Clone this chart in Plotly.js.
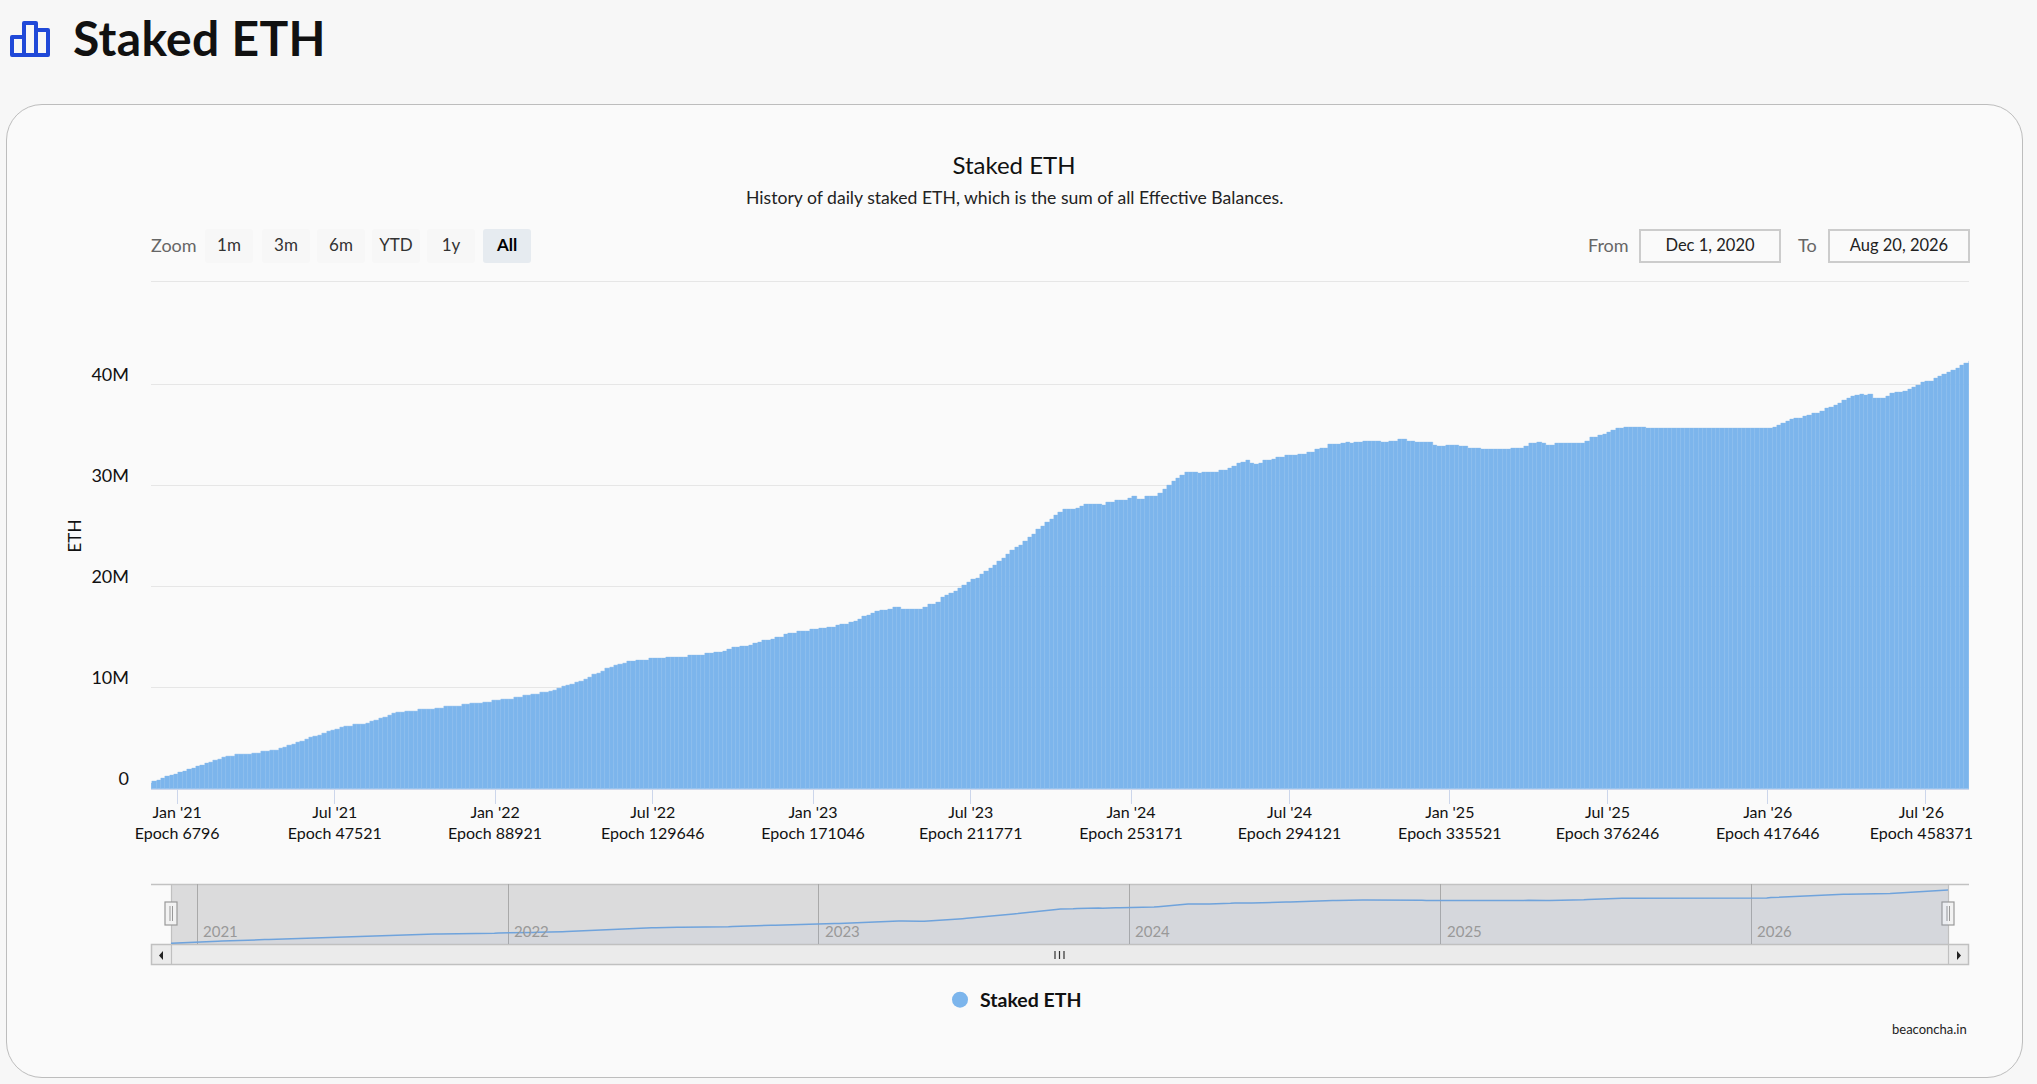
<!DOCTYPE html>
<html>
<head>
<meta charset="utf-8">
<title>Staked ETH</title>
<script src="https://cdn.plot.ly/plotly-3.0.1.min.js"></script>
<style>
  html, body { margin: 0; width: 2037px; height: 1084px; overflow: hidden; background: #f7f7f7; font-family: Lato, sans-serif; color: #111; }
  #heading { position: absolute; left: 73px; top: 5px; font-size: 48px; font-weight: 700; line-height: 66px; letter-spacing: 0.3px; }
  #card { position: absolute; left: 6px; top: 104px; width: 2015px; height: 972px; border: 1px solid #bdbdbd; border-radius: 36px; background: #fafafa; }
  #furniture, #icon, #graph { position: absolute; left: 0; top: 0; }
  #graph { width: 2037px; height: 1084px; }
  .lbl { position: absolute; top: 228px; height: 34px; line-height: 34px; font-size: 18px; color: #666; }
  .btn { position: absolute; top: 229px; height: 34px; line-height: 32px; width: 48px; font-size: 17px; text-align: center; background: #f7f7f7; border-radius: 3px; color: #333; }
  .btn.on { background: #e6ebf0; color: #000; font-weight: 700; }
  .date { position: absolute; top: 229px; width: 138px; height: 30px; line-height: 28px; font-size: 16.5px; text-align: center; border: 2px solid #ccc; color: #222; }
</style>
</head>
<body>
<div id="heading">Staked ETH</div>
<svg id="icon" width="60" height="70">
  <path d="M12 37h12v18H12z M24 23h12v32H24z M36 30h12v25H36z" fill="none" stroke="#2049d8" stroke-width="4" stroke-linejoin="round"/>
</svg>
<div id="card"></div>

<div class="lbl" style="left:151px">Zoom</div>
<div class="btn" style="left:205px">1m</div>
<div class="btn" style="left:262px">3m</div>
<div class="btn" style="left:317px">6m</div>
<div class="btn" style="left:372px">YTD</div>
<div class="btn" style="left:427px">1y</div>
<div class="btn on" style="left:483px">All</div>
<div class="lbl" style="left:1588px">From</div>
<div class="date" style="left:1639px">Dec 1, 2020</div>
<div class="lbl" style="left:1798px">To</div>
<div class="date" style="left:1828px">Aug 20, 2026</div>

<!-- separator, navigator mask, handles and scrollbar sit under the transparent plot -->
<svg id="furniture" width="2037" height="1084">
  <path d="M151 281.5H1969" stroke="#e6e6e6"/>
  <rect x="171" y="884" width="1777" height="60" fill="#dbdbdc"/>
  <path d="M151 884.5H1969" stroke="#c2c2c2" stroke-width="1.5"/>
  <rect x="151.5" y="944.5" width="1817" height="20" fill="#ebebeb" stroke="#c0c0c0" stroke-width="1.5"/>
  <path d="M171.5 944V965M1948.5 944V965M171.5 884V944M1948.5 884V944" stroke="#c0c0c0" stroke-width="1.2"/>
  <path d="M163 951l-4 4.5 4 4.5z M1957 951l4 4.5-4 4.5z" fill="#222"/>
  <path d="M1055 951v8M1059.5 951v8M1064 951v8" stroke="#333" stroke-width="1.2"/>
  <rect x="165" y="902" width="12" height="23" fill="#f2f2f2" stroke="#999" stroke-width="1.2"/>
  <rect x="1942" y="902" width="12" height="23" fill="#f2f2f2" stroke="#999" stroke-width="1.2"/>
  <path d="M170 906v15M172.5 906v15M1947 906v15M1949.5 906v15" stroke="#999"/>
</svg>
<div id="graph"></div>

<script>
// staked ETH in millions, one reading every 5 days from the first day
const firstDay = '2020-12-01';
const stepDays = 5;
const staked2021 = [
  0.55, 0.75, 0.88, 1.06, 1.19, 1.35, 1.48, 1.65, 1.78, 1.94, 2.07, 2.24, 2.37, 2.53, 2.63, 2.83, 2.96, 3.13,
  3.26, 3.26, 3.43, 3.43, 3.43, 3.43, 3.56, 3.56, 3.72, 3.72, 3.85, 3.85, 4.02, 4.15, 4.31, 4.45, 4.61, 4.74,
  4.90, 5.05, 5.21, 5.34, 5.50, 5.64, 5.80, 5.93, 6.10, 6.23, 6.23, 6.39, 6.39, 6.39, 6.52, 6.69, 6.82, 6.98,
  7.12, 7.29, 7.42, 7.58, 7.58, 7.71, 7.71, 7.71, 7.88, 7.88, 7.88, 7.88, 8.01, 8.01, 8.17, 8.17
];
const staked2022 = [
  8.21, 8.21, 8.31, 8.31, 8.47, 8.47, 8.47, 8.60, 8.60, 8.77, 8.77, 8.90, 8.90, 8.90, 9.07, 9.07, 9.20, 9.20,
  9.37, 9.37, 9.50, 9.50, 9.66, 9.79, 9.96, 10.09, 10.25, 10.38, 10.55, 10.68, 10.84, 10.98, 11.28, 11.44, 11.58, 11.87,
  12.04, 12.17, 12.33, 12.46, 12.63, 12.63, 12.76, 12.76, 12.76, 12.92, 12.92, 12.92, 12.92, 13.05, 13.05, 13.05, 13.05, 13.05,
  13.23, 13.23, 13.23, 13.23, 13.36, 13.36, 13.52, 13.52, 13.65, 13.82, 13.95, 13.95, 14.11, 14.11, 14.24, 14.41
];
const staked2023 = [
  14.50, 14.70, 14.70, 14.83, 15.03, 15.03, 15.30, 15.43, 15.43, 15.59, 15.59, 15.59, 15.73, 15.73, 15.89, 15.89, 16.02, 16.02,
  16.19, 16.32, 16.32, 16.48, 16.61, 16.78, 17.04, 17.21, 17.38, 17.51, 17.67, 17.67, 17.80, 17.97, 17.97, 17.80, 17.80, 17.80,
  17.80, 17.80, 17.97, 18.26, 18.26, 18.43, 18.95, 19.13, 19.32, 19.52, 19.81, 20.11, 20.47, 20.70, 20.86, 21.17, 21.53, 21.83,
  22.15, 22.51, 22.81, 23.15, 23.57, 23.84, 24.13, 24.49, 24.85, 25.22, 25.62, 26.01, 26.37, 26.70, 27.03
];
const staked2024 = [
  27.34, 27.60, 27.60, 27.60, 27.76, 27.93, 28.19, 28.19, 28.19, 28.19, 28.06, 28.35, 28.35, 28.49, 28.49, 28.49, 28.72, 28.95,
  28.65, 28.65, 28.95, 28.95, 28.95, 29.25, 29.58, 30.01, 30.37, 30.76, 30.99, 31.33, 31.33, 31.33, 31.16, 31.33, 31.33, 31.33,
  31.33, 31.46, 31.46, 31.72, 31.92, 32.21, 32.28, 32.51, 32.15, 32.05, 32.21, 32.51, 32.51, 32.64, 32.80, 32.80, 32.94, 32.94,
  32.94, 33.10, 33.10, 33.24, 33.24, 33.54, 33.70, 33.70, 34.03, 34.03, 34.03, 34.13, 34.26, 34.13, 34.29, 34.29
];
const staked2025 = [
  34.42, 34.42, 34.42, 34.42, 34.29, 34.29, 34.42, 34.42, 34.59, 34.59, 34.42, 34.42, 34.29, 34.29, 34.29, 34.29, 34.00, 33.83,
  33.83, 34.00, 34.00, 34.00, 33.83, 33.83, 33.70, 33.70, 33.70, 33.54, 33.54, 33.54, 33.54, 33.54, 33.54, 33.54, 33.70, 33.70,
  33.70, 33.83, 34.13, 34.13, 34.29, 34.13, 34.00, 34.00, 34.13, 34.13, 34.13, 34.13, 34.13, 34.13, 34.13, 34.42, 34.72, 34.72,
  34.92, 35.08, 35.26, 35.48, 35.62, 35.62, 35.78, 35.78, 35.78, 35.78, 35.78, 35.62, 35.62, 35.62, 35.62, 35.62
];
const staked2026 = [
  35.62, 35.61, 35.61, 35.61, 35.61, 35.61, 35.61, 35.61, 35.61, 35.61, 35.61, 35.61, 35.61, 35.61, 35.61, 35.61, 35.61, 35.61,
  35.61, 35.61, 35.61, 35.61, 35.61, 35.61, 35.78, 35.98, 36.11, 36.34, 36.53, 36.60, 36.66, 36.80, 36.99, 37.16, 37.16, 37.30,
  37.63, 37.76, 37.95, 38.15, 38.41, 38.64, 38.87, 38.91, 39.00, 38.94, 39.00, 38.64, 38.58, 38.61, 38.87, 39.13, 39.17, 39.17,
  39.31, 39.51, 39.70, 39.93, 40.19, 40.26, 40.33, 40.62, 40.79, 40.98, 41.18, 41.39, 41.62, 41.85, 42.11, 42.31
];
const stakedEth = [].concat(staked2021, staked2022, staked2023, staked2024, staked2025, staked2026);

const tickDates = ['2021-01-01', '2021-07-01', '2022-01-01', '2022-07-01', '2023-01-01', '2023-07-01', '2024-01-01',
  '2024-07-01', '2025-01-01', '2025-07-01', '2026-01-01', '2026-07-01'];
const tickMonths = ["Jan '21", "Jul '21", "Jan '22", "Jul '22", "Jan '23", "Jul '23", "Jan '24",
  "Jul '24", "Jan '25", "Jul '25", "Jan '26", "Jul '26"];
const tickEpochs = [6796, 47521, 88921, 129646, 171046, 211771, 253171, 294121, 335521, 376246, 417646, 458371];
const yTicks = [0, 10, 20, 30, 40];
const yLabels = ['0', '10M', '20M', '30M', '40M'];
const navYears = ['2021', '2022', '2023', '2024', '2025', '2026'];

const W = 2037, H = 1084;
const px = x => x / W;
const py = y => 1 - y / H;

const dates = stakedEth.map((_, i) => {
  const d = new Date(firstDay + 'T00:00:00Z');
  d.setUTCDate(d.getUTCDate() + i * stepDays);
  return d.toISOString().slice(0, 10);
});

const xLabels = tickMonths.map((m, i) => m + '<br>Epoch ' + tickEpochs[i]);
// the last label is pushed left so it stays inside the plot width
xLabels[xLabels.length - 1] = xLabels[xLabels.length - 1].replace('<br>', '\u00a0\u00a0<br>') + '\u00a0\u00a0';

const traces = [
  {
    type: 'bar', x: dates, y: stakedEth, name: 'Staked ETH', showlegend: false, hoverinfo: 'x+y',
    marker: { color: '#7cb5ec', line: { color: '#8cbeee', width: 0.4 } }
  },
  // legend entry only, the bars would get a square key
  {
    type: 'scatter', mode: 'markers', x: [null], y: [null], name: 'Staked ETH',
    marker: { color: '#7cb5ec', size: 18, symbol: 'circle' }
  },
  {
    type: 'scatter', mode: 'lines', x: dates, y: stakedEth, xaxis: 'x2', yaxis: 'y2', showlegend: false, hoverinfo: 'skip',
    line: { color: '#6fa3dc', width: 1.5 }, fill: 'tozeroy', fillcolor: 'rgba(124,160,236,0.05)'
  }
];

const navAnnotations = navYears.map(y => ({
  text: y, x: y + '-01-01', xref: 'x2', y: py(931), yref: 'paper', xanchor: 'left', yanchor: 'middle',
  xshift: 4, showarrow: false, font: { size: 15, color: '#999' }
}));

const layout = {
  width: W, height: H,
  margin: { l: 0, r: 0, t: 0, b: 0 },
  paper_bgcolor: 'rgba(0,0,0,0)',
  plot_bgcolor: 'rgba(0,0,0,0)',
  font: { family: 'Lato, sans-serif', color: '#111' },
  bargap: 0,
  title: {
    text: 'Staked ETH', x: px(1014), xanchor: 'center', y: py(166), yanchor: 'middle',
    font: { size: 24, color: '#111' }
  },
  xaxis: {
    domain: [px(151), px(1969)], range: ['2020-12-02', '2026-08-20'], type: 'date', anchor: 'y',
    tickmode: 'array', tickvals: tickDates, ticktext: xLabels,
    ticks: 'outside', ticklen: 14, tickcolor: '#ccd6eb', tickwidth: 1,
    showline: true, linecolor: '#ccd6eb', linewidth: 1, showgrid: false, ticklabelstandoff: -5,
    tickfont: { size: 16, color: '#111' }
  },
  yaxis: {
    domain: [py(788.8), py(283.3)], range: [0, 50], anchor: 'x',
    tickmode: 'array', tickvals: yTicks, ticktext: yLabels,
    gridcolor: '#e6e6e6', gridwidth: 1, zeroline: false, ticklabelstandoff: 21, ticklabelshift: -10,
    tickfont: { size: 18, color: '#111' },
    title: { text: 'ETH', standoff: 5, font: { size: 17, color: '#111' } }
  },
  xaxis2: {
    domain: [px(171), px(1948)], range: ['2020-12-01', '2026-08-20'], type: 'date', anchor: 'y2',
    tick0: '2021-01-01', dtick: 'M12', showticklabels: false, ticks: '',
    showgrid: true, gridcolor: '#a9a9a9', gridwidth: 1.2, zeroline: false
  },
  yaxis2: {
    domain: [py(944), py(884)], range: [0, 47], anchor: 'x2',
    showgrid: false, showticklabels: false, zeroline: false, ticks: ''
  },
  legend: {
    x: px(940), y: py(1000), xanchor: 'left', yanchor: 'middle', orientation: 'h',
    bgcolor: 'rgba(0,0,0,0)', font: { size: 19.5, weight: 700, color: '#111' }, itemsizing: 'trace'
  },
  annotations: navAnnotations.concat([
    {
      text: 'History of daily staked ETH, which is the sum of all Effective Balances.',
      x: px(1014), xref: 'paper', y: py(198), yref: 'paper', xanchor: 'center', yanchor: 'middle',
      showarrow: false, font: { size: 17.6, color: '#222' }
    },
    {
      text: 'beaconcha.in', x: px(1969), xref: 'paper', y: py(1029), yref: 'paper', xanchor: 'right', yanchor: 'middle',
      showarrow: false, font: { size: 13, color: '#222' }
    }
  ])
};

Plotly.newPlot('graph', traces, layout, { displayModeBar: false });
</script>
</body>
</html>
